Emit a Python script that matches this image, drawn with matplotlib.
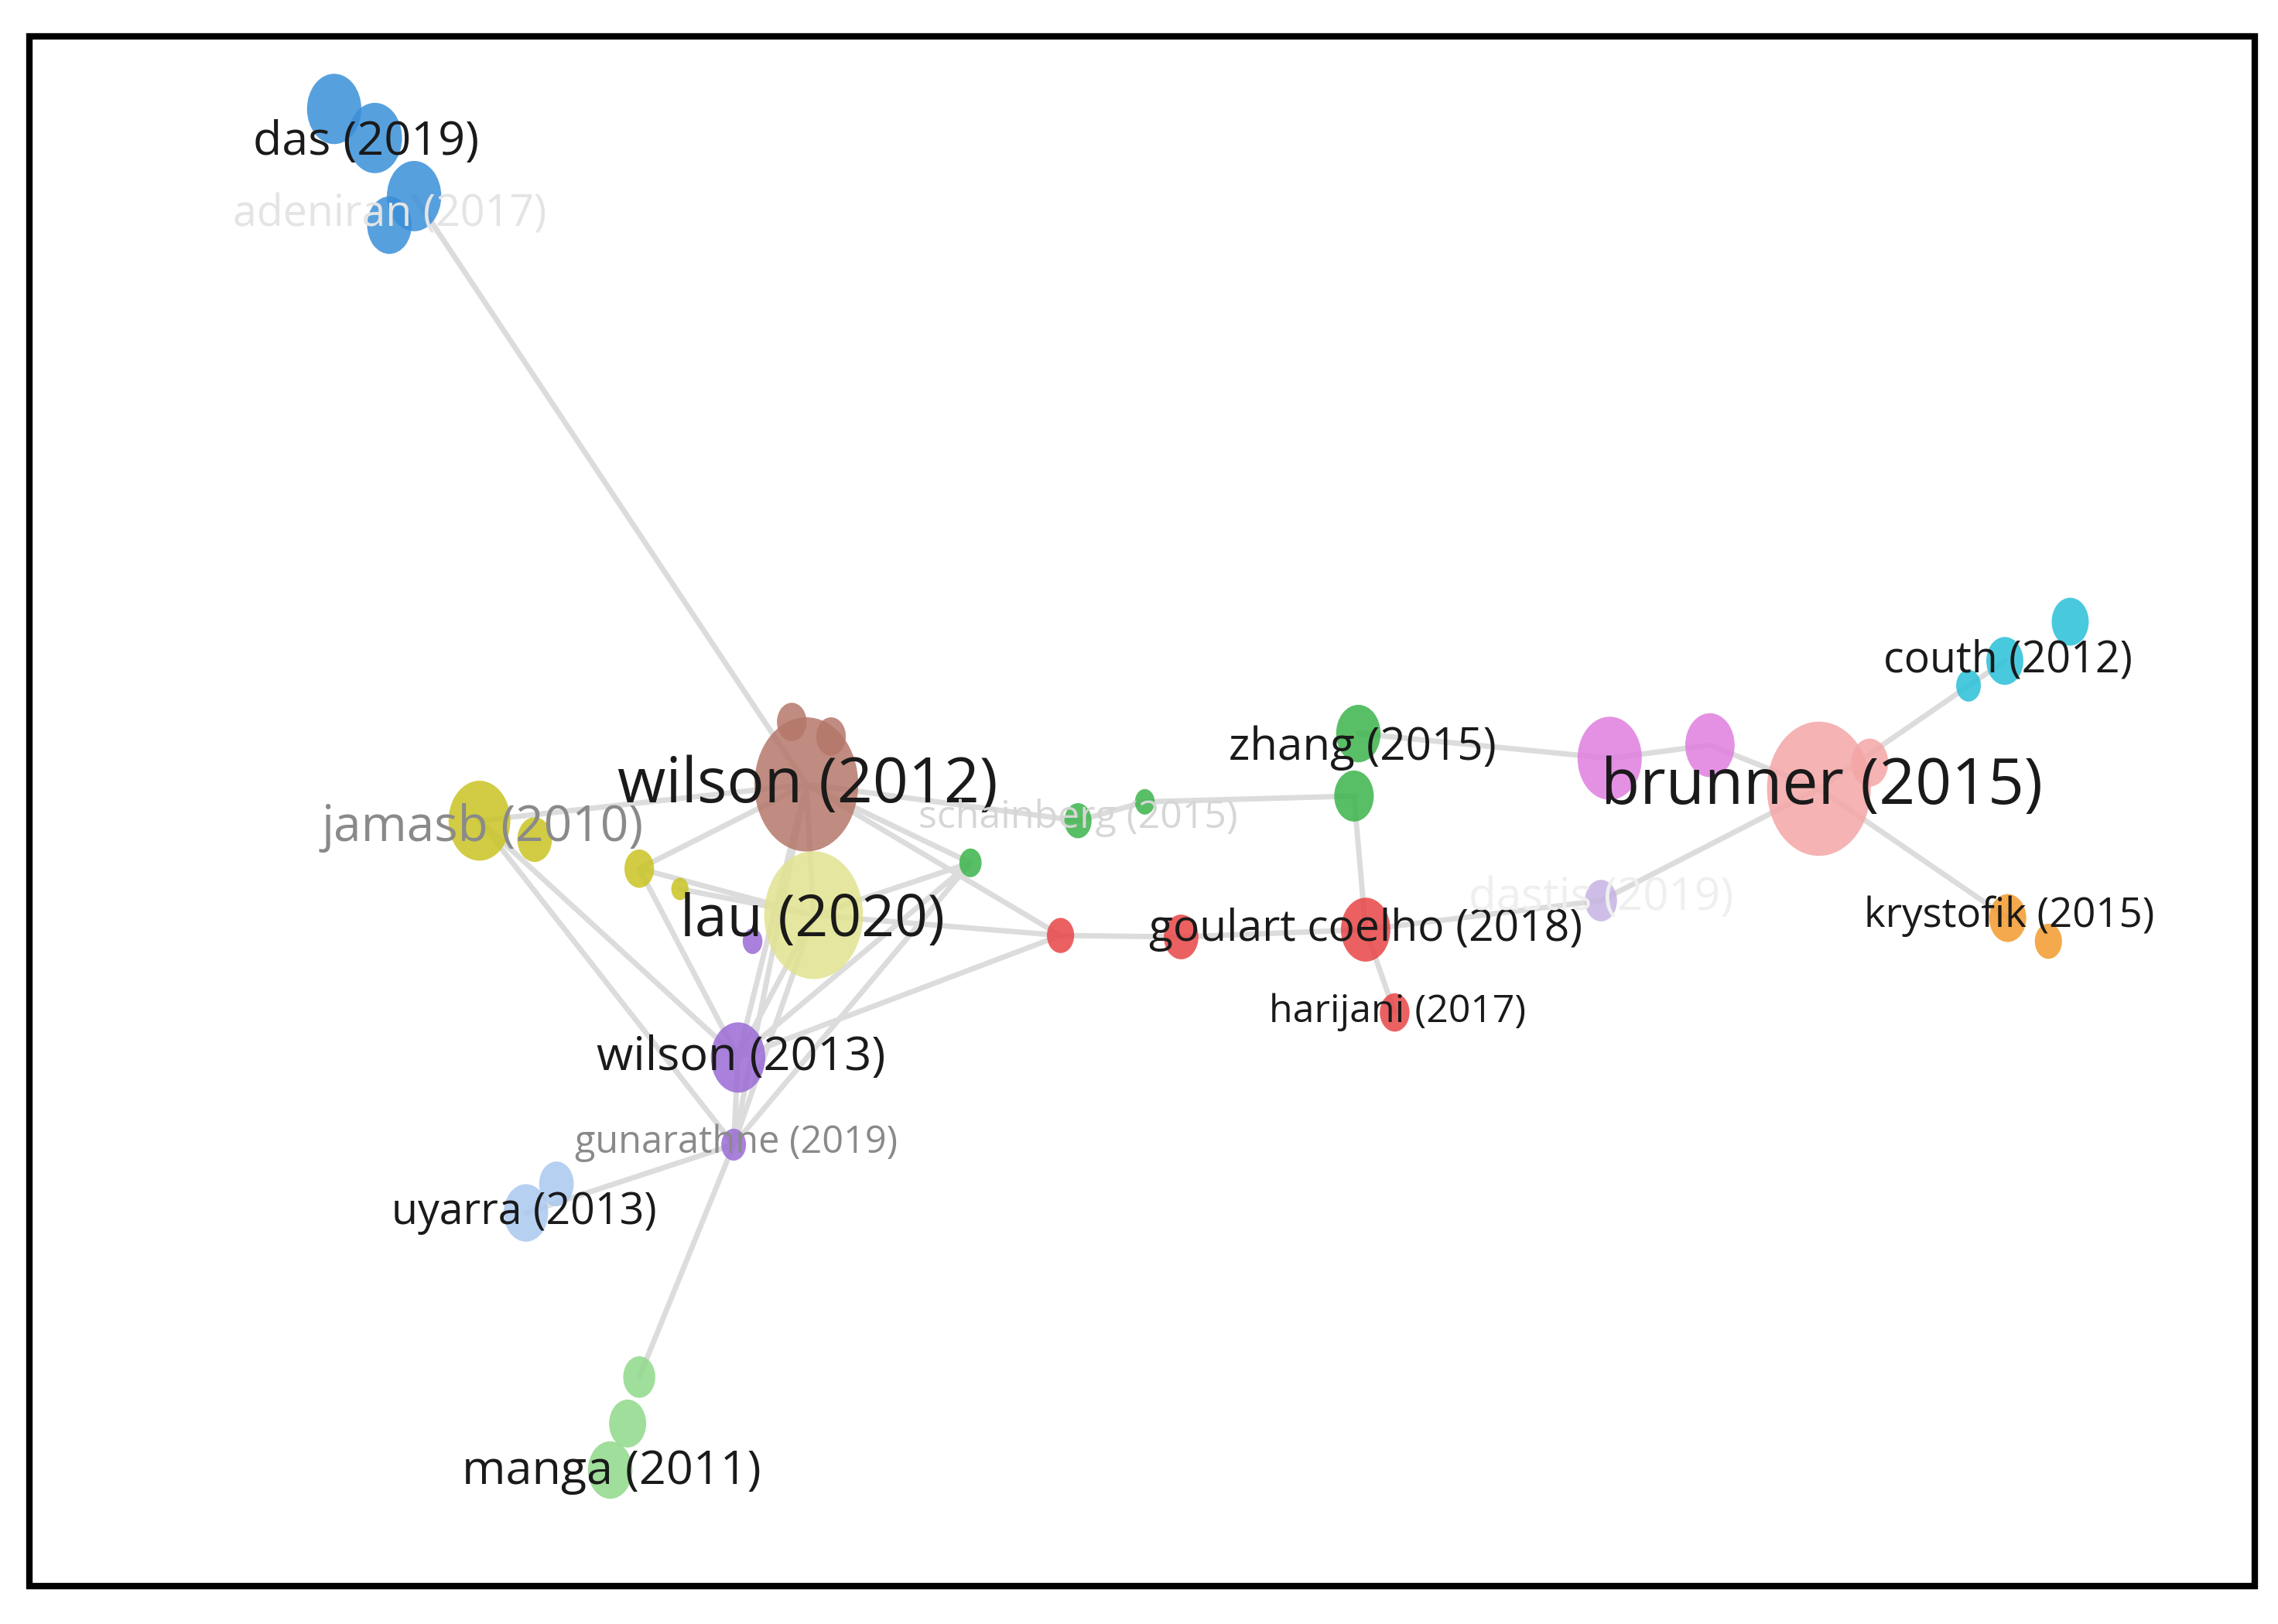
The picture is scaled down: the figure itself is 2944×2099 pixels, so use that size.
import matplotlib
matplotlib.use("Agg")
import matplotlib.pyplot as plt
from matplotlib.patches import Ellipse, Rectangle

# nodes: (x, y, radius, color)
node_x = [230,258,285,268, 555,545,572, 560, 330,368,440,468, 668,742,788,935,932,
          730,813,940,960, 1108,1177, 1252,1287, 1102, 1380,1425,1355, 1382,1410,
          508,518,505, 362,383, 440,432,420]
node_y = [75,95,135,155, 540,497,507, 630, 565,578,598,612, 594,565,552,505,548,
          644,645,640,697, 522,513, 543,525, 620, 455,428,472, 632,648,
          728,648,788, 835,815, 948,980,1012]
node_r = [22,22,22,18, 42,12,12, 40, 25,14,12,7, 9,11,8,18,16,
          11,14,20,12, 26,20, 42,15, 13, 15,15,10, 15,11,
          22,8,10, 18,14, 13,15,18]
node_c = ["#3a8fd9"]*4 + ["#b5776a"]*3 + ["#e1e38f"] + ["#c9c422"]*4 + ["#3cb44b"]*5 + \
         ["#e84545"]*4 + ["#e07ee0"]*2 + ["#f4a6a6"]*2 + ["#c6b3e3"] + ["#29c0d8"]*3 + \
         ["#f39a2c"]*2 + ["#9a6bd6"]*3 + ["#a9c8ef"]*2 + ["#8fd98a"]*3

edges = [(2,4),(4,7),(4,8),(4,10),(4,12),(4,13),(13,14),(14,16),(15,21),(21,22),(22,23),
         (7,12),(7,17),(4,17),(17,18),(18,19),(19,20),(16,19),(19,25),(25,23),(23,26),(23,29),
         (7,31),(4,31),(8,31),(10,31),(12,31),(17,31),(31,33),(33,34),(33,36),(7,33),(4,33),
         (12,33),(8,33),(10,7),(7,11)]

labels = ["das (2019)","adeniran (2017)","wilson (2012)","lau (2020)","jamasb (2010)",
          "schainberg (2015)","zhang (2015)","goulart coelho (2018)","harijani (2017)",
          "brunner (2015)","dastis (2019)","couth (2012)","krystofik (2015)",
          "wilson (2013)","gunarathne (2019)","uyarra (2013)","manga (2011)"]
label_x = [252,268,556,559,332,742,938,940,962,1254,1102,1382,1383,510,507,361,421]
label_y = [98,148,541,634,570,563,515,640,697,542,618,455,631,728,787,835,1013]
label_s = [44,40,58,54,46,36,42,41,36,59,42,40,38,44,35,40,44]
label_c = ["#1a1a1a","#e4e4e4","#1a1a1a","#1a1a1a","#8a8a8a","#d6d6d6","#1a1a1a",
           "#1a1a1a","#1a1a1a","#1a1a1a","#efefef","#1a1a1a","#1a1a1a","#1a1a1a",
           "#8a8a8a","#1a1a1a","#1a1a1a"]

fig = plt.figure(figsize=(29.44, 20.99), dpi=100)
ax = fig.add_axes([0, 0, 1, 1])
ax.set_xlim(0, 1568); ax.set_ylim(1118, 0); ax.set_aspect("equal"); ax.axis("off")

for a, b in edges:
    ax.plot([node_x[a], node_x[b]], [node_y[a], node_y[b]], color="#dcdcdc", lw=5,
            solid_capstyle="round", zorder=1)
for x, y, r, c in zip(node_x, node_y, node_r, node_c):
    ax.add_patch(Ellipse((x, y), 1.7 * r, 2.2 * r, facecolor=c, edgecolor="none",
                         alpha=0.85, zorder=2))
for t, x, y, s, c in zip(labels, label_x, label_y, label_s, label_c):
    ax.text(x, y, t, fontsize=s, color=c, ha="center", va="center", zorder=3,
            family=["Liberation Sans Narrow", "Open Sans", "DejaVu Sans"])
ax.add_patch(Rectangle((20, 25), 1532, 1067, fill=False, edgecolor="black", lw=6, zorder=4))
fig.savefig("out.png", dpi=100)
